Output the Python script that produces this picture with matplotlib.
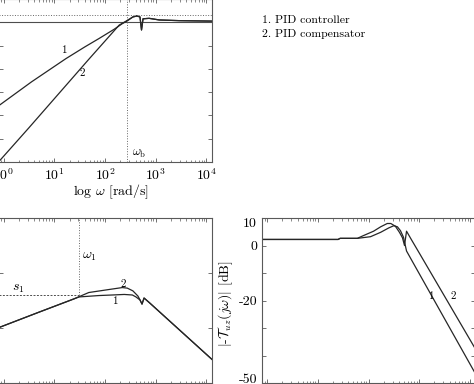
import numpy as np
import matplotlib
matplotlib.use("Agg")
import matplotlib.pyplot as plt

plt.rcParams['font.family'] = 'serif'
plt.rcParams['font.serif'] = ['cmr10']
plt.rcParams['mathtext.fontset'] = 'cm'
plt.rcParams['axes.formatter.use_mathtext'] = True

# ---- data (log10 of omega [rad/s], magnitude [dB]) ----
# top left: sensitivity
s1_logw = [-0.10, 0.55, 1.23, 1.60, 1.88, 2.18, 2.34, 2.44, 2.55, 2.63, 2.69, 2.72, 2.75, 2.87, 3.07, 3.47, 4.12]
s1_db   = [-35.9, -25.6, -15.6, -10.6, -7.0, -3.0, -0.6, 0.6, 2.3, 2.7, 2.3, -3.3, 1.5, 1.7, 1.0, 0.7, 0.5]
s2_logw = [-0.10, 0.50, 1.09, 1.68, 2.08, 2.28, 2.40, 2.55, 2.63, 2.69, 2.72, 2.75, 2.87, 3.07, 3.47, 4.12]
s2_db   = [-60.0, -45.3, -30.6, -15.9, -6.1, -1.2, 0.3, 2.3, 2.7, 2.3, -3.3, 1.5, 1.7, 1.0, 0.7, 0.5]
s_bound = 3.0
w_b = 270.0

# bottom left
l1_logw = [-0.10, 0.69, 1.39, 1.49, 1.88, 2.14, 2.38, 2.54, 2.61, 2.69, 2.73, 2.77, 2.87, 4.12]
l1_db   = [-19.9, -14.3, -9.4, -8.7, -8.2, -8.0, -7.8, -8.0, -8.7, -9.8, -11.3, -9.1, -10.7, -31.6]
l2_logw = [-0.10, 0.69, 1.39, 1.68, 2.08, 2.34, 2.44, 2.55, 2.65, 2.69, 2.73, 2.77, 2.87, 4.12]
l2_db   = [-19.9, -14.3, -9.4, -7.1, -6.0, -5.3, -5.5, -6.5, -8.4, -9.8, -11.3, -9.1, -10.7, -31.6]
w_1 = 30.6
s_1 = -8.0

# bottom right: |-T_uz|
t1_logw = [-0.10, 1.40, 1.44, 1.78, 2.04, 2.24, 2.40, 2.50, 2.57, 2.63, 2.69, 2.75, 2.85, 4.12]
t1_db   = [2.2, 2.2, 2.6, 2.6, 3.2, 4.8, 6.4, 7.2, 6.8, 5.4, 3.0, -2.0, -5.3, -47.0]
t2_logw = [-0.10, 1.40, 1.44, 1.78, 1.90, 2.10, 2.24, 2.37, 2.44, 2.53, 2.61, 2.67, 2.71, 2.75, 2.85, 3.00, 4.12]
t2_db   = [2.2, 2.2, 2.6, 2.6, 3.6, 5.2, 6.8, 8.0, 8.0, 7.0, 4.8, 2.8, 0.0, 5.2, 2.0, -2.7, -38.0]
t_ticks = [-50, -40, -30, -20, -10, 0, 10]
t_ticklabels = ['-50', '', '', '-20', '', '0', '10']

xlims = (10**-0.1, 10**4.1)
lc = '0.15'
W, H = 474.0, 384.0


def style(ax):
	ax.set_xscale('log')
	ax.set_xlim(*xlims)
	ax.tick_params(which='both', direction='in', top=True, right=True, colors='0.35', labelcolor='k', labelsize=10)
	ax.tick_params(which='major', length=3, width=0.6)
	ax.tick_params(which='minor', length=1.8, width=0.5)
	for sp in ax.spines.values():
		sp.set_color('0.35')
		sp.set_linewidth(0.8)


fig = plt.figure(figsize=(4.74, 3.84), dpi=100)

# ---- top left ----
ax1 = fig.add_axes([-1.5 / W, 222 / H, 213 / W, 163 / H])
style(ax1)
ax1.set_ylim(-60, 10)
ax1.set_yticks(np.arange(-60, 11, 10))
ax1.set_yticklabels([])
ax1.set_xticks([1, 10, 100, 1000, 10000])
ax1.axhline(0, color='0.3', lw=0.8)
ax1.axhline(s_bound, color='0.4', lw=0.7, ls=':')
ax1.axvline(w_b, color='0.4', lw=0.7, ls=':')
ax1.plot(10**np.array(s1_logw), s1_db, color=lc, lw=0.9)
ax1.plot(10**np.array(s2_logw), s2_db, color=lc, lw=0.9)
ax1.text(10**1.19, -11.9, '1', fontsize=8, ha='center', va='center')
ax1.text(10**1.56, -21.8, '2', fontsize=8, ha='center', va='center')
ax1.text(10**2.53, -59.0, r'$\omega_{\rm b}$', fontsize=9, ha='left', va='bottom')
ax1.set_xlabel(r'log $\omega$ [rad/s]', fontsize=10)
ax1.xaxis.set_label_coords(0.53, -0.125)

fig.text(262 / W, 1 - 20 / H, '1. PID controller', fontsize=8.5, va='center')
fig.text(262 / W, 1 - 34 / H, '2. PID compensator', fontsize=8.5, va='center')

# ---- bottom left ----
ax2 = fig.add_axes([-1.5 / W, 1 / H, 213 / W, 165 / H])
style(ax2)
ax2.set_ylim(-40, 20)
ax2.set_yticks([-40, -20, 0, 20])
ax2.set_yticklabels([])
ax2.tick_params(which='both', labelbottom=False)
ax2.plot([xlims[0], w_1], [s_1, s_1], color='0.3', lw=0.7, ls=(0, (2, 1.5)))
ax2.plot([w_1, w_1], [s_1, 20], color='0.4', lw=0.7, ls=':')
ax2.plot(10**np.array(l1_logw), l1_db, color=lc, lw=0.9)
ax2.plot(10**np.array(l2_logw), l2_db, color=lc, lw=0.9)
ax2.text(10**1.545, 5.8, r'$\omega_1$', fontsize=10, ha='left', va='center')
ax2.text(10**0.16, -5.8, r'$s_1$', fontsize=10, ha='left', va='center')
ax2.text(10**2.356, -4.0, '2', fontsize=8, ha='center', va='center')
ax2.text(10**2.198, -10.2, '1', fontsize=8, ha='center', va='center')

# ---- bottom right ----
ax3 = fig.add_axes([262 / W, 1 / H, 213 / W, 165 / H])
style(ax3)
ax3.set_ylim(-50, 10)
ax3.set_yticks(t_ticks)
ax3.set_yticklabels(t_ticklabels)
ticklabs = ax3.get_yticklabels()
ticklabs[0].set_va('baseline')
ticklabs[-1].set_va('top')
ax3.tick_params(which='both', labelbottom=False)
ax3.plot(10**np.array(t1_logw), t1_db, color=lc, lw=0.9)
ax3.plot(10**np.array(t2_logw), t2_db, color=lc, lw=0.9)
ax3.text(10**3.23, -18.4, '1', fontsize=8, ha='center', va='center')
ax3.text(10**3.68, -18.4, '2', fontsize=8, ha='center', va='center')
ax3.set_ylabel(r'$|$-$\mathcal{T}_{uz}(j\omega)|$ [dB]', fontsize=10)
ax3.yaxis.set_label_coords(-0.125, 0.48)

fig.savefig('out.png', dpi=100)
